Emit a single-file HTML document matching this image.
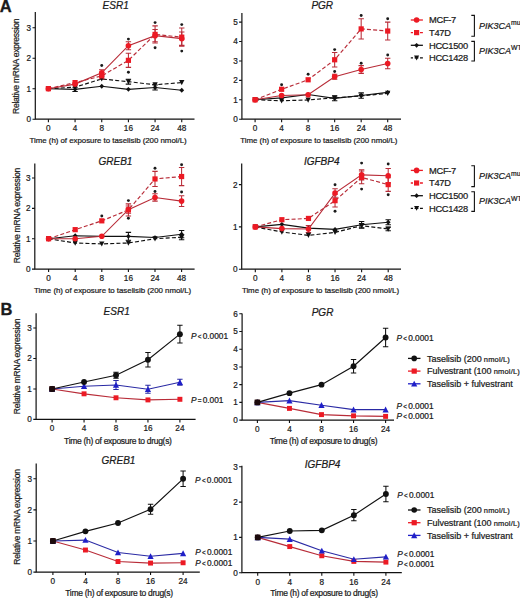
<!DOCTYPE html>
<html><head><meta charset="utf-8"><title>Figure</title>
<style>
html,body{margin:0;padding:0;background:#fff;width:520px;height:599px;overflow:hidden}
svg{display:block}
text{font-family:"Liberation Sans", sans-serif;fill:#1a1a1a;stroke:#1a1a1a;stroke-width:0.22px}
.tk{font-size:8.2px}
.ti{font-size:10px;font-style:italic}
.xt{font-size:7.9px;letter-spacing:-0.03px}
.xtb{font-size:8.5px;letter-spacing:-0.3px}
.yl{font-size:8.6px;letter-spacing:-0.29px}
.st{font-size:9px;font-weight:bold}
.pv{font-size:8.3px}
.lg{font-size:9.3px;letter-spacing:-0.28px}
.lgb{font-size:9px;letter-spacing:-0.03px}
.lgi{font-size:9px;font-style:italic}
.sup{font-size:6.8px;font-style:normal}
.sm{font-size:7.5px;letter-spacing:0.15px}
.pl{font-size:16.5px;font-weight:bold;stroke-width:0.3px}
</style></head><body>
<svg width="520" height="599" viewBox="0 0 520 599">
<path d="M35.3 12.1V119.2H194.5" fill="none" stroke="#111111" stroke-width="1.2"/>
<path d="M32.5 119.2H35.3M32.5 88.7H35.3M32.5 58.2H35.3M32.5 27.7H35.3M48.4 119.2V122.2M75.07 119.2V122.2M101.74 119.2V122.2M128.41 119.2V122.2M155.08 119.2V122.2M181.75 119.2V122.2" stroke="#111111" stroke-width="1.1"/>
<text x="31.1" y="122.1" text-anchor="end" class="tk">0</text>
<text x="31.1" y="91.6" text-anchor="end" class="tk">1</text>
<text x="31.1" y="61.1" text-anchor="end" class="tk">2</text>
<text x="31.1" y="30.6" text-anchor="end" class="tk">3</text>
<text x="48.4" y="131" text-anchor="middle" class="tk">0</text>
<text x="75.07" y="131" text-anchor="middle" class="tk">4</text>
<text x="101.74" y="131" text-anchor="middle" class="tk">8</text>
<text x="128.41" y="131" text-anchor="middle" class="tk">16</text>
<text x="155.08" y="131" text-anchor="middle" class="tk">24</text>
<text x="181.75" y="131" text-anchor="middle" class="tk">48</text>
<text x="102.6" y="8.8" class="ti">ESR1</text>
<text x="29.5" y="142.9" class="xt">Time (h) of exposure to taselisib (200 nmol/L)</text>
<text transform="translate(19.3 66.3) rotate(-90)" text-anchor="middle" class="yl">Relative mRNA expression</text>
<polyline points="48.4,88.7 75.07,89.31 101.74,86.26 128.41,89.31 155.08,87.48 181.75,90.23" fill="none" stroke="#111111" stroke-width="1.15"/>
<polyline points="48.4,88.7 75.07,87.18 101.74,78.94 128.41,81.69 155.08,84.74 181.75,82.6" fill="none" stroke="#111111" stroke-width="1.15" stroke-dasharray="4 2.2"/>
<polyline points="48.4,88.7 75.07,84.12 101.74,72.84 128.41,45.69 155.08,35.63 181.75,38.68" fill="none" stroke="#b82c38" stroke-width="1.15"/>
<polyline points="48.4,88.7 75.07,82.6 101.74,75.89 128.41,60.34 155.08,34.41 181.75,37.16" fill="none" stroke="#b82c38" stroke-width="1.15" stroke-dasharray="4 2.2"/>
<path d="M75.07 87.18V91.45M72.37 87.18H77.77M72.37 91.45H77.77" stroke="#111111" stroke-width="1.05" fill="none"/>
<path d="M155.08 85.04V89.92M152.38 85.04H157.78M152.38 89.92H157.78" stroke="#111111" stroke-width="1.05" fill="none"/>
<path d="M128.41 79.25V84.12M125.71 79.25H131.11M125.71 84.12H131.11" stroke="#111111" stroke-width="1.05" fill="none"/>
<path d="M101.74 69.79V75.89M99.04 69.79H104.44M99.04 75.89H104.44" stroke="#b82c38" stroke-width="1.05" fill="none"/>
<path d="M128.41 41.73V49.66M125.71 41.73H131.11M125.71 49.66H131.11" stroke="#b82c38" stroke-width="1.05" fill="none"/>
<path d="M155.08 29.53V41.73M152.38 29.53H157.78M152.38 41.73H157.78" stroke="#b82c38" stroke-width="1.05" fill="none"/>
<path d="M181.75 31.97V45.39M179.05 31.97H184.45M179.05 45.39H184.45" stroke="#b82c38" stroke-width="1.05" fill="none"/>
<path d="M101.74 72.84V78.94M99.04 72.84H104.44M99.04 78.94H104.44" stroke="#b82c38" stroke-width="1.05" fill="none"/>
<path d="M128.41 53.32V67.35M125.71 53.32H131.11M125.71 67.35H131.11" stroke="#b82c38" stroke-width="1.05" fill="none"/>
<path d="M155.08 25.87V42.95M152.38 25.87H157.78M152.38 42.95H157.78" stroke="#b82c38" stroke-width="1.05" fill="none"/>
<path d="M181.75 28.01V46.3M179.05 28.01H184.45M179.05 46.3H184.45" stroke="#b82c38" stroke-width="1.05" fill="none"/>
<path d="M48.4 86.3L50.8 88.7L48.4 91.1L46 88.7Z" fill="#111111"/>
<path d="M75.07 86.91L77.47 89.31L75.07 91.71L72.67 89.31Z" fill="#111111"/>
<path d="M101.74 83.86L104.14 86.26L101.74 88.66L99.34 86.26Z" fill="#111111"/>
<path d="M128.41 86.91L130.81 89.31L128.41 91.71L126.01 89.31Z" fill="#111111"/>
<path d="M155.08 85.08L157.48 87.48L155.08 89.88L152.68 87.48Z" fill="#111111"/>
<path d="M181.75 87.83L184.15 90.23L181.75 92.63L179.35 90.23Z" fill="#111111"/>
<path d="M45.74 86.18L51.06 86.18L48.4 91.36Z" fill="#111111"/>
<path d="M72.41 84.66L77.73 84.66L75.07 89.84Z" fill="#111111"/>
<path d="M99.08 76.42L104.4 76.42L101.74 81.6Z" fill="#111111"/>
<path d="M125.75 79.17L131.07 79.17L128.41 84.34Z" fill="#111111"/>
<path d="M152.42 82.22L157.74 82.22L155.08 87.4Z" fill="#111111"/>
<path d="M179.09 80.08L184.41 80.08L181.75 85.26Z" fill="#111111"/>
<circle cx="48.4" cy="88.7" r="2.8" fill="#ec1a24"/>
<circle cx="75.07" cy="84.12" r="2.8" fill="#ec1a24"/>
<circle cx="101.74" cy="72.84" r="2.8" fill="#ec1a24"/>
<circle cx="128.41" cy="45.69" r="2.8" fill="#ec1a24"/>
<circle cx="155.08" cy="35.63" r="2.8" fill="#ec1a24"/>
<circle cx="181.75" cy="38.68" r="2.8" fill="#ec1a24"/>
<rect x="45.8" y="86.1" width="5.2" height="5.2" fill="#ec1a24"/>
<rect x="72.47" y="80" width="5.2" height="5.2" fill="#ec1a24"/>
<rect x="99.14" y="73.29" width="5.2" height="5.2" fill="#ec1a24"/>
<rect x="125.81" y="57.74" width="5.2" height="5.2" fill="#ec1a24"/>
<rect x="152.48" y="31.81" width="5.2" height="5.2" fill="#ec1a24"/>
<rect x="179.15" y="34.55" width="5.2" height="5.2" fill="#ec1a24"/>
<circle cx="101.74" cy="65.5" r="1.45" fill="#1a1a1a"/>
<circle cx="128.41" cy="39.1" r="1.45" fill="#1a1a1a"/>
<circle cx="128.41" cy="72.2" r="1.45" fill="#1a1a1a"/>
<circle cx="155.08" cy="22.6" r="1.45" fill="#1a1a1a"/>
<circle cx="155.08" cy="47.7" r="1.45" fill="#1a1a1a"/>
<circle cx="181.75" cy="24.6" r="1.45" fill="#1a1a1a"/>
<circle cx="181.75" cy="51.1" r="1.45" fill="#1a1a1a"/>
<path d="M241.9 12.9V119.2H401" fill="none" stroke="#111111" stroke-width="1.2"/>
<path d="M239.1 119.2H241.9M239.1 99.78H241.9M239.1 80.36H241.9M239.1 60.94H241.9M239.1 41.52H241.9M239.1 22.1H241.9M255.1 119.2V122.2M281.62 119.2V122.2M308.14 119.2V122.2M334.66 119.2V122.2M361.18 119.2V122.2M387.7 119.2V122.2" stroke="#111111" stroke-width="1.1"/>
<text x="237.7" y="122.1" text-anchor="end" class="tk">0</text>
<text x="237.7" y="102.68" text-anchor="end" class="tk">1</text>
<text x="237.7" y="83.26" text-anchor="end" class="tk">2</text>
<text x="237.7" y="63.84" text-anchor="end" class="tk">3</text>
<text x="237.7" y="44.42" text-anchor="end" class="tk">4</text>
<text x="237.7" y="25" text-anchor="end" class="tk">5</text>
<text x="255.1" y="131" text-anchor="middle" class="tk">0</text>
<text x="281.62" y="131" text-anchor="middle" class="tk">4</text>
<text x="308.14" y="131" text-anchor="middle" class="tk">8</text>
<text x="334.66" y="131" text-anchor="middle" class="tk">16</text>
<text x="361.18" y="131" text-anchor="middle" class="tk">24</text>
<text x="387.7" y="131" text-anchor="middle" class="tk">48</text>
<text x="311.4" y="8.6" class="ti">PGR</text>
<text x="240.3" y="142.9" class="xt">Time (h) of exposure to taselisib (200 nmol/L)</text>
<text transform="translate(-100 66) rotate(-90)" text-anchor="middle" class="yl">Relative mRNA expression</text>
<polyline points="255.1,99.78 281.62,97.84 308.14,94.54 334.66,98.42 361.18,95.51 387.7,92.4" fill="none" stroke="#111111" stroke-width="1.15"/>
<polyline points="255.1,99.78 281.62,100.75 308.14,99.97 334.66,97.84 361.18,95.9 387.7,93.37" fill="none" stroke="#111111" stroke-width="1.15" stroke-dasharray="4 2.2"/>
<polyline points="255.1,99.78 281.62,95.51 308.14,94.73 334.66,76.67 361.18,69.48 387.7,63.46" fill="none" stroke="#b82c38" stroke-width="1.15"/>
<polyline points="255.1,99.78 281.62,89.29 308.14,79.78 334.66,59.77 361.18,28.9 387.7,31.03" fill="none" stroke="#b82c38" stroke-width="1.15" stroke-dasharray="4 2.2"/>
<path d="M334.66 96.09V100.75M331.96 96.09H337.36M331.96 100.75H337.36" stroke="#111111" stroke-width="1.05" fill="none"/>
<path d="M361.18 92.79V98.23M358.48 92.79H363.88M358.48 98.23H363.88" stroke="#111111" stroke-width="1.05" fill="none"/>
<path d="M334.66 74.15V79.19M331.96 74.15H337.36M331.96 79.19H337.36" stroke="#b82c38" stroke-width="1.05" fill="none"/>
<path d="M361.18 65.6V73.37M358.48 65.6H363.88M358.48 73.37H363.88" stroke="#b82c38" stroke-width="1.05" fill="none"/>
<path d="M387.7 58.22V68.71M385 58.22H390.4M385 68.71H390.4" stroke="#b82c38" stroke-width="1.05" fill="none"/>
<path d="M334.66 52.59V66.96M331.96 52.59H337.36M331.96 66.96H337.36" stroke="#b82c38" stroke-width="1.05" fill="none"/>
<path d="M361.18 18.8V39M358.48 18.8H363.88M358.48 39H363.88" stroke="#b82c38" stroke-width="1.05" fill="none"/>
<path d="M387.7 22.1V39.97M385 22.1H390.4M385 39.97H390.4" stroke="#b82c38" stroke-width="1.05" fill="none"/>
<path d="M255.1 97.38L257.5 99.78L255.1 102.18L252.7 99.78Z" fill="#111111"/>
<path d="M281.62 95.44L284.02 97.84L281.62 100.24L279.22 97.84Z" fill="#111111"/>
<path d="M308.14 92.14L310.54 94.54L308.14 96.94L305.74 94.54Z" fill="#111111"/>
<path d="M334.66 96.02L337.06 98.42L334.66 100.82L332.26 98.42Z" fill="#111111"/>
<path d="M361.18 93.11L363.58 95.51L361.18 97.91L358.78 95.51Z" fill="#111111"/>
<path d="M387.7 90L390.1 92.4L387.7 94.8L385.3 92.4Z" fill="#111111"/>
<path d="M252.44 97.26L257.76 97.26L255.1 102.44Z" fill="#111111"/>
<path d="M278.96 98.23L284.28 98.23L281.62 103.41Z" fill="#111111"/>
<path d="M305.48 97.45L310.8 97.45L308.14 102.63Z" fill="#111111"/>
<path d="M332 95.32L337.32 95.32L334.66 100.5Z" fill="#111111"/>
<path d="M358.52 93.38L363.84 93.38L361.18 98.56Z" fill="#111111"/>
<path d="M385.04 90.85L390.36 90.85L387.7 96.03Z" fill="#111111"/>
<circle cx="255.1" cy="99.78" r="2.8" fill="#ec1a24"/>
<circle cx="281.62" cy="95.51" r="2.8" fill="#ec1a24"/>
<circle cx="308.14" cy="94.73" r="2.8" fill="#ec1a24"/>
<circle cx="334.66" cy="76.67" r="2.8" fill="#ec1a24"/>
<circle cx="361.18" cy="69.48" r="2.8" fill="#ec1a24"/>
<circle cx="387.7" cy="63.46" r="2.8" fill="#ec1a24"/>
<rect x="252.5" y="97.18" width="5.2" height="5.2" fill="#ec1a24"/>
<rect x="279.02" y="86.69" width="5.2" height="5.2" fill="#ec1a24"/>
<rect x="305.54" y="77.18" width="5.2" height="5.2" fill="#ec1a24"/>
<rect x="332.06" y="57.17" width="5.2" height="5.2" fill="#ec1a24"/>
<rect x="358.58" y="26.3" width="5.2" height="5.2" fill="#ec1a24"/>
<rect x="385.1" y="28.43" width="5.2" height="5.2" fill="#ec1a24"/>
<circle cx="281.62" cy="84.8" r="1.45" fill="#1a1a1a"/>
<circle cx="308.14" cy="74.3" r="1.45" fill="#1a1a1a"/>
<circle cx="334.66" cy="49.6" r="1.45" fill="#1a1a1a"/>
<circle cx="334.66" cy="71.5" r="1.45" fill="#1a1a1a"/>
<circle cx="361.18" cy="15.5" r="1.45" fill="#1a1a1a"/>
<circle cx="361.18" cy="63.2" r="1.45" fill="#1a1a1a"/>
<circle cx="387.7" cy="18.8" r="1.45" fill="#1a1a1a"/>
<circle cx="387.7" cy="55" r="1.45" fill="#1a1a1a"/>
<path d="M34.8 163.6V269.1H194.6" fill="none" stroke="#111111" stroke-width="1.2"/>
<path d="M32 269.1H34.8M32 238.75H34.8M32 208.4H34.8M32 178.05H34.8M48.6 269.1V272.1M75.2 269.1V272.1M101.8 269.1V272.1M128.4 269.1V272.1M155 269.1V272.1M181.6 269.1V272.1" stroke="#111111" stroke-width="1.1"/>
<text x="30.6" y="272" text-anchor="end" class="tk">0</text>
<text x="30.6" y="241.65" text-anchor="end" class="tk">1</text>
<text x="30.6" y="211.3" text-anchor="end" class="tk">2</text>
<text x="30.6" y="180.95" text-anchor="end" class="tk">3</text>
<text x="48.6" y="280.9" text-anchor="middle" class="tk">0</text>
<text x="75.2" y="280.9" text-anchor="middle" class="tk">4</text>
<text x="101.8" y="280.9" text-anchor="middle" class="tk">8</text>
<text x="128.4" y="280.9" text-anchor="middle" class="tk">16</text>
<text x="155" y="280.9" text-anchor="middle" class="tk">24</text>
<text x="181.6" y="280.9" text-anchor="middle" class="tk">48</text>
<text x="98.5" y="165.1" class="ti">GREB1</text>
<text x="34.1" y="293.3" class="xt">Time (h) of exposure to taselisib (200 nmol/L)</text>
<text transform="translate(19.7 215.6) rotate(-90)" text-anchor="middle" class="yl">Relative mRNA expression</text>
<polyline points="48.6,238.75 75.2,235.72 101.8,236.32 128.4,236.32 155,237.54 181.6,234.2" fill="none" stroke="#111111" stroke-width="1.15"/>
<polyline points="48.6,238.75 75.2,243 101.8,243.91 128.4,243 155,238.75 181.6,237.23" fill="none" stroke="#111111" stroke-width="1.15" stroke-dasharray="4 2.2"/>
<polyline points="48.6,238.75 75.2,238.75 101.8,236.32 128.4,209.61 155,197.47 181.6,201.12" fill="none" stroke="#b82c38" stroke-width="1.15"/>
<polyline points="48.6,238.75 75.2,229.65 101.8,220.84 128.4,209.92 155,178.96 181.6,176.53" fill="none" stroke="#b82c38" stroke-width="1.15" stroke-dasharray="4 2.2"/>
<path d="M128.4 232.38V240.27M125.7 232.38H131.1M125.7 240.27H131.1" stroke="#111111" stroke-width="1.05" fill="none"/>
<path d="M181.6 230.56V237.84M178.9 230.56H184.3M178.9 237.84H184.3" stroke="#111111" stroke-width="1.05" fill="none"/>
<path d="M181.6 234.8V239.66M178.9 234.8H184.3M178.9 239.66H184.3" stroke="#111111" stroke-width="1.05" fill="none"/>
<path d="M128.4 205.97V213.26M125.7 205.97H131.1M125.7 213.26H131.1" stroke="#b82c38" stroke-width="1.05" fill="none"/>
<path d="M155 193.83V201.12M152.3 193.83H157.7M152.3 201.12H157.7" stroke="#b82c38" stroke-width="1.05" fill="none"/>
<path d="M181.6 195.65V206.58M178.9 195.65H184.3M178.9 206.58H184.3" stroke="#b82c38" stroke-width="1.05" fill="none"/>
<path d="M128.4 203.85V215.99M125.7 203.85H131.1M125.7 215.99H131.1" stroke="#b82c38" stroke-width="1.05" fill="none"/>
<path d="M155 171.37V186.55M152.3 171.37H157.7M152.3 186.55H157.7" stroke="#b82c38" stroke-width="1.05" fill="none"/>
<path d="M181.6 167.43V185.64M178.9 167.43H184.3M178.9 185.64H184.3" stroke="#b82c38" stroke-width="1.05" fill="none"/>
<path d="M48.6 236.35L51 238.75L48.6 241.15L46.2 238.75Z" fill="#111111"/>
<path d="M75.2 233.32L77.6 235.72L75.2 238.12L72.8 235.72Z" fill="#111111"/>
<path d="M101.8 233.92L104.2 236.32L101.8 238.72L99.4 236.32Z" fill="#111111"/>
<path d="M128.4 233.92L130.8 236.32L128.4 238.72L126 236.32Z" fill="#111111"/>
<path d="M155 235.14L157.4 237.54L155 239.94L152.6 237.54Z" fill="#111111"/>
<path d="M181.6 231.8L184 234.2L181.6 236.6L179.2 234.2Z" fill="#111111"/>
<path d="M45.94 236.23L51.26 236.23L48.6 241.41Z" fill="#111111"/>
<path d="M72.54 240.48L77.86 240.48L75.2 245.66Z" fill="#111111"/>
<path d="M99.14 241.39L104.46 241.39L101.8 246.57Z" fill="#111111"/>
<path d="M125.74 240.48L131.06 240.48L128.4 245.66Z" fill="#111111"/>
<path d="M152.34 236.23L157.66 236.23L155 241.41Z" fill="#111111"/>
<path d="M178.94 234.71L184.26 234.71L181.6 239.89Z" fill="#111111"/>
<circle cx="48.6" cy="238.75" r="2.8" fill="#ec1a24"/>
<circle cx="75.2" cy="238.75" r="2.8" fill="#ec1a24"/>
<circle cx="101.8" cy="236.32" r="2.8" fill="#ec1a24"/>
<circle cx="128.4" cy="209.61" r="2.8" fill="#ec1a24"/>
<circle cx="155" cy="197.47" r="2.8" fill="#ec1a24"/>
<circle cx="181.6" cy="201.12" r="2.8" fill="#ec1a24"/>
<rect x="46" y="236.15" width="5.2" height="5.2" fill="#ec1a24"/>
<rect x="72.6" y="227.05" width="5.2" height="5.2" fill="#ec1a24"/>
<rect x="99.2" y="218.24" width="5.2" height="5.2" fill="#ec1a24"/>
<rect x="125.8" y="207.32" width="5.2" height="5.2" fill="#ec1a24"/>
<rect x="152.4" y="176.36" width="5.2" height="5.2" fill="#ec1a24"/>
<rect x="179" y="173.93" width="5.2" height="5.2" fill="#ec1a24"/>
<circle cx="101.8" cy="216" r="1.45" fill="#1a1a1a"/>
<circle cx="128.4" cy="200.6" r="1.45" fill="#1a1a1a"/>
<circle cx="128.4" cy="218.3" r="1.45" fill="#1a1a1a"/>
<circle cx="155" cy="168.2" r="1.45" fill="#1a1a1a"/>
<circle cx="155" cy="191.5" r="1.45" fill="#1a1a1a"/>
<circle cx="181.6" cy="164.7" r="1.45" fill="#1a1a1a"/>
<circle cx="181.6" cy="192" r="1.45" fill="#1a1a1a"/>
<path d="M241.7 163.4V269.2H401" fill="none" stroke="#111111" stroke-width="1.2"/>
<path d="M238.9 269.2H241.7M238.9 226.9H241.7M238.9 184.6H241.7M255.3 269.2V272.2M281.88 269.2V272.2M308.46 269.2V272.2M335.04 269.2V272.2M361.62 269.2V272.2M388.2 269.2V272.2" stroke="#111111" stroke-width="1.1"/>
<text x="237.5" y="272.1" text-anchor="end" class="tk">0</text>
<text x="237.5" y="229.8" text-anchor="end" class="tk">1</text>
<text x="237.5" y="187.5" text-anchor="end" class="tk">2</text>
<text x="255.3" y="281" text-anchor="middle" class="tk">0</text>
<text x="281.88" y="281" text-anchor="middle" class="tk">4</text>
<text x="308.46" y="281" text-anchor="middle" class="tk">8</text>
<text x="335.04" y="281" text-anchor="middle" class="tk">16</text>
<text x="361.62" y="281" text-anchor="middle" class="tk">24</text>
<text x="388.2" y="281" text-anchor="middle" class="tk">48</text>
<text x="303.9" y="165.1" class="ti">IGFBP4</text>
<text x="241.9" y="293.3" class="xt">Time (h) of exposure to taselisib (200 nmol/L)</text>
<text transform="translate(-100 216) rotate(-90)" text-anchor="middle" class="yl">Relative mRNA expression</text>
<polyline points="255.3,226.9 281.88,224.36 308.46,228.17 335.04,229.44 361.62,224.78 388.2,222.25" fill="none" stroke="#111111" stroke-width="1.15"/>
<polyline points="255.3,226.9 281.88,231.98 308.46,235.36 335.04,232.4 361.62,225.63 388.2,229.01" fill="none" stroke="#111111" stroke-width="1.15" stroke-dasharray="4 2.2"/>
<polyline points="255.3,226.9 281.88,228.59 308.46,229.01 335.04,193.06 361.62,174.87 388.2,175.72" fill="none" stroke="#b82c38" stroke-width="1.15"/>
<polyline points="255.3,226.9 281.88,219.71 308.46,218.44 335.04,200.67 361.62,177.41 388.2,184.6" fill="none" stroke="#b82c38" stroke-width="1.15" stroke-dasharray="4 2.2"/>
<path d="M361.62 221.4V228.17M358.92 221.4H364.32M358.92 228.17H364.32" stroke="#111111" stroke-width="1.05" fill="none"/>
<path d="M388.2 219.71V224.78M385.5 219.71H390.9M385.5 224.78H390.9" stroke="#111111" stroke-width="1.05" fill="none"/>
<path d="M361.62 223.52V227.75M358.92 223.52H364.32M358.92 227.75H364.32" stroke="#111111" stroke-width="1.05" fill="none"/>
<path d="M388.2 227.32V230.71M385.5 227.32H390.9M385.5 230.71H390.9" stroke="#111111" stroke-width="1.05" fill="none"/>
<path d="M308.46 225.63V232.4M305.76 225.63H311.16M305.76 232.4H311.16" stroke="#b82c38" stroke-width="1.05" fill="none"/>
<path d="M335.04 188.83V197.29M332.34 188.83H337.74M332.34 197.29H337.74" stroke="#b82c38" stroke-width="1.05" fill="none"/>
<path d="M361.62 169.79V179.95M358.92 169.79H364.32M358.92 179.95H364.32" stroke="#b82c38" stroke-width="1.05" fill="none"/>
<path d="M388.2 168.53V182.91M385.5 168.53H390.9M385.5 182.91H390.9" stroke="#b82c38" stroke-width="1.05" fill="none"/>
<path d="M335.04 194.33V207.02M332.34 194.33H337.74M332.34 207.02H337.74" stroke="#b82c38" stroke-width="1.05" fill="none"/>
<path d="M361.62 171.06V183.75M358.92 171.06H364.32M358.92 183.75H364.32" stroke="#b82c38" stroke-width="1.05" fill="none"/>
<path d="M388.2 177.83V191.37M385.5 177.83H390.9M385.5 191.37H390.9" stroke="#b82c38" stroke-width="1.05" fill="none"/>
<path d="M255.3 224.5L257.7 226.9L255.3 229.3L252.9 226.9Z" fill="#111111"/>
<path d="M281.88 221.96L284.28 224.36L281.88 226.76L279.48 224.36Z" fill="#111111"/>
<path d="M308.46 225.77L310.86 228.17L308.46 230.57L306.06 228.17Z" fill="#111111"/>
<path d="M335.04 227.04L337.44 229.44L335.04 231.84L332.64 229.44Z" fill="#111111"/>
<path d="M361.62 222.38L364.02 224.78L361.62 227.19L359.22 224.78Z" fill="#111111"/>
<path d="M388.2 219.85L390.6 222.25L388.2 224.65L385.8 222.25Z" fill="#111111"/>
<path d="M252.64 224.38L257.96 224.38L255.3 229.56Z" fill="#111111"/>
<path d="M279.22 229.46L284.54 229.46L281.88 234.64Z" fill="#111111"/>
<path d="M305.8 232.84L311.12 232.84L308.46 238.02Z" fill="#111111"/>
<path d="M332.38 229.88L337.7 229.88L335.04 235.06Z" fill="#111111"/>
<path d="M358.96 223.11L364.28 223.11L361.62 228.29Z" fill="#111111"/>
<path d="M385.54 226.49L390.86 226.49L388.2 231.67Z" fill="#111111"/>
<circle cx="255.3" cy="226.9" r="2.8" fill="#ec1a24"/>
<circle cx="281.88" cy="228.59" r="2.8" fill="#ec1a24"/>
<circle cx="308.46" cy="229.01" r="2.8" fill="#ec1a24"/>
<circle cx="335.04" cy="193.06" r="2.8" fill="#ec1a24"/>
<circle cx="361.62" cy="174.87" r="2.8" fill="#ec1a24"/>
<circle cx="388.2" cy="175.72" r="2.8" fill="#ec1a24"/>
<rect x="252.7" y="224.3" width="5.2" height="5.2" fill="#ec1a24"/>
<rect x="279.28" y="217.11" width="5.2" height="5.2" fill="#ec1a24"/>
<rect x="305.86" y="215.84" width="5.2" height="5.2" fill="#ec1a24"/>
<rect x="332.44" y="198.07" width="5.2" height="5.2" fill="#ec1a24"/>
<rect x="359.02" y="174.81" width="5.2" height="5.2" fill="#ec1a24"/>
<rect x="385.6" y="182" width="5.2" height="5.2" fill="#ec1a24"/>
<circle cx="335.04" cy="184.8" r="1.45" fill="#1a1a1a"/>
<circle cx="335.04" cy="211.2" r="1.45" fill="#1a1a1a"/>
<circle cx="361.62" cy="163.1" r="1.45" fill="#1a1a1a"/>
<circle cx="361.62" cy="189.1" r="1.45" fill="#1a1a1a"/>
<circle cx="388.2" cy="164" r="1.45" fill="#1a1a1a"/>
<circle cx="388.2" cy="194.8" r="1.45" fill="#1a1a1a"/>
<path d="M36.1 313.2V419.4H195.6" fill="none" stroke="#111111" stroke-width="1.2"/>
<path d="M33.3 419.4H36.1M33.3 388.95H36.1M33.3 358.5H36.1M33.3 328.05H36.1M52.1 419.4V422.4M84.05 419.4V422.4M116 419.4V422.4M147.95 419.4V422.4M179.9 419.4V422.4" stroke="#111111" stroke-width="1.1"/>
<text x="31.9" y="422.3" text-anchor="end" class="tk">0</text>
<text x="31.9" y="391.85" text-anchor="end" class="tk">1</text>
<text x="31.9" y="361.4" text-anchor="end" class="tk">2</text>
<text x="31.9" y="330.95" text-anchor="end" class="tk">3</text>
<text x="52.1" y="431.2" text-anchor="middle" class="tk">0</text>
<text x="84.05" y="431.2" text-anchor="middle" class="tk">4</text>
<text x="116" y="431.2" text-anchor="middle" class="tk">8</text>
<text x="147.95" y="431.2" text-anchor="middle" class="tk">16</text>
<text x="179.9" y="431.2" text-anchor="middle" class="tk">24</text>
<text x="103.6" y="314.5" class="ti">ESR1</text>
<text x="64.1" y="443.8" class="xtb">Time (h) of exposure to drug(s)</text>
<text transform="translate(20 366.5) rotate(-90)" text-anchor="middle" class="yl">Relative mRNA expression</text>
<polyline points="52.1,388.95 84.05,393.82 116,397.78 147.95,399.91 179.9,399.3" fill="none" stroke="#b82c38" stroke-width="1.15"/>
<polyline points="52.1,388.95 84.05,386.21 116,384.99 147.95,389.25 179.9,382.25" fill="none" stroke="#2a2aa4" stroke-width="1.15"/>
<polyline points="52.1,388.95 84.05,381.95 116,375.25 147.95,359.72 179.9,334.14" fill="none" stroke="#111111" stroke-width="1.15"/>
<path d="M116 380.42V389.56M113.3 380.42H118.7M113.3 389.56H118.7" stroke="#2a2aa4" stroke-width="1.05" fill="none"/>
<path d="M147.95 385.3V393.21M145.25 385.3H150.65M145.25 393.21H150.65" stroke="#2a2aa4" stroke-width="1.05" fill="none"/>
<path d="M179.9 379.21V385.3M177.2 379.21H182.6M177.2 385.3H182.6" stroke="#2a2aa4" stroke-width="1.05" fill="none"/>
<path d="M116 372.2V378.29M113.3 372.2H118.7M113.3 378.29H118.7" stroke="#111111" stroke-width="1.05" fill="none"/>
<path d="M147.95 352.41V367.03M145.25 352.41H150.65M145.25 367.03H150.65" stroke="#111111" stroke-width="1.05" fill="none"/>
<path d="M179.9 325.31V342.97M177.2 325.31H182.6M177.2 342.97H182.6" stroke="#111111" stroke-width="1.05" fill="none"/>
<rect x="49.63" y="386.48" width="4.94" height="4.94" fill="#ec1a24"/>
<rect x="81.58" y="391.35" width="4.94" height="4.94" fill="#ec1a24"/>
<rect x="113.53" y="395.31" width="4.94" height="4.94" fill="#ec1a24"/>
<rect x="145.48" y="397.44" width="4.94" height="4.94" fill="#ec1a24"/>
<rect x="177.43" y="396.83" width="4.94" height="4.94" fill="#ec1a24"/>
<path d="M49 391.74L55.2 391.74L52.1 385.85Z" fill="#1f1fc8"/>
<path d="M80.95 389L87.15 389L84.05 383.11Z" fill="#1f1fc8"/>
<path d="M112.9 387.78L119.1 387.78L116 381.89Z" fill="#1f1fc8"/>
<path d="M144.85 392.04L151.05 392.04L147.95 386.15Z" fill="#1f1fc8"/>
<path d="M176.8 385.04L183 385.04L179.9 379.15Z" fill="#1f1fc8"/>
<circle cx="52.1" cy="388.95" r="2.94" fill="#111111"/>
<circle cx="84.05" cy="381.95" r="2.94" fill="#111111"/>
<circle cx="116" cy="375.25" r="2.94" fill="#111111"/>
<circle cx="147.95" cy="359.72" r="2.94" fill="#111111"/>
<circle cx="179.9" cy="334.14" r="2.94" fill="#111111"/>
<rect x="49.3" y="386.15" width="5.6" height="5.6" fill="#1c0a0c"/>
<text x="191" y="338.6" class="pv"><tspan font-style="italic">P</tspan><tspan dx="1.3" font-size="6.4px">&lt;</tspan><tspan dx="1.1">0.0001</tspan></text>
<text x="191" y="402.7" class="pv"><tspan font-style="italic">P</tspan><tspan dx="1.3" font-size="6.4px">=</tspan><tspan dx="1.1">0.001</tspan></text>
<path d="M242.1 313.5V420.1H394" fill="none" stroke="#111111" stroke-width="1.2"/>
<path d="M239.3 420.1H242.1M239.3 402.38H242.1M239.3 384.66H242.1M239.3 366.94H242.1M239.3 349.22H242.1M239.3 331.5H242.1M239.3 313.78H242.1M257.4 420.1V423.1M289.45 420.1V423.1M321.5 420.1V423.1M353.55 420.1V423.1M385.6 420.1V423.1" stroke="#111111" stroke-width="1.1"/>
<text x="237.9" y="423" text-anchor="end" class="tk">0</text>
<text x="237.9" y="405.28" text-anchor="end" class="tk">1</text>
<text x="237.9" y="387.56" text-anchor="end" class="tk">2</text>
<text x="237.9" y="369.84" text-anchor="end" class="tk">3</text>
<text x="237.9" y="352.12" text-anchor="end" class="tk">4</text>
<text x="237.9" y="334.4" text-anchor="end" class="tk">5</text>
<text x="237.9" y="316.68" text-anchor="end" class="tk">6</text>
<text x="257.4" y="431.9" text-anchor="middle" class="tk">0</text>
<text x="289.45" y="431.9" text-anchor="middle" class="tk">4</text>
<text x="321.5" y="431.9" text-anchor="middle" class="tk">8</text>
<text x="353.55" y="431.9" text-anchor="middle" class="tk">16</text>
<text x="385.6" y="431.9" text-anchor="middle" class="tk">24</text>
<text x="311.7" y="315.6" class="ti">PGR</text>
<text x="269.7" y="443.8" class="xtb">Time (h) of exposure to drug(s)</text>
<text transform="translate(-100 367) rotate(-90)" text-anchor="middle" class="yl">Relative mRNA expression</text>
<polyline points="257.4,402.38 289.45,408.4 321.5,414.61 353.55,415.85 385.6,416.38" fill="none" stroke="#b82c38" stroke-width="1.15"/>
<polyline points="257.4,402.38 289.45,400.61 321.5,405.22 353.55,409.65 385.6,409.65" fill="none" stroke="#2a2aa4" stroke-width="1.15"/>
<polyline points="257.4,402.38 289.45,393.17 321.5,384.66 353.55,366.23 385.6,337.52" fill="none" stroke="#111111" stroke-width="1.15"/>
<path d="M353.55 359.5V372.96M350.85 359.5H356.25M350.85 372.96H356.25" stroke="#111111" stroke-width="1.05" fill="none"/>
<path d="M385.6 328.31V346.74M382.9 328.31H388.3M382.9 346.74H388.3" stroke="#111111" stroke-width="1.05" fill="none"/>
<rect x="254.93" y="399.91" width="4.94" height="4.94" fill="#ec1a24"/>
<rect x="286.98" y="405.93" width="4.94" height="4.94" fill="#ec1a24"/>
<rect x="319.03" y="412.14" width="4.94" height="4.94" fill="#ec1a24"/>
<rect x="351.08" y="413.38" width="4.94" height="4.94" fill="#ec1a24"/>
<rect x="383.13" y="413.91" width="4.94" height="4.94" fill="#ec1a24"/>
<path d="M254.3 405.17L260.5 405.17L257.4 399.28Z" fill="#1f1fc8"/>
<path d="M286.35 403.4L292.55 403.4L289.45 397.51Z" fill="#1f1fc8"/>
<path d="M318.4 408.01L324.6 408.01L321.5 402.12Z" fill="#1f1fc8"/>
<path d="M350.45 412.44L356.65 412.44L353.55 406.55Z" fill="#1f1fc8"/>
<path d="M382.5 412.44L388.7 412.44L385.6 406.55Z" fill="#1f1fc8"/>
<circle cx="257.4" cy="402.38" r="2.94" fill="#111111"/>
<circle cx="289.45" cy="393.17" r="2.94" fill="#111111"/>
<circle cx="321.5" cy="384.66" r="2.94" fill="#111111"/>
<circle cx="353.55" cy="366.23" r="2.94" fill="#111111"/>
<circle cx="385.6" cy="337.52" r="2.94" fill="#111111"/>
<rect x="254.6" y="399.58" width="5.6" height="5.6" fill="#1c0a0c"/>
<text x="396.5" y="340.9" class="pv"><tspan font-style="italic">P</tspan><tspan dx="1.3" font-size="6.4px">&lt;</tspan><tspan dx="1.1">0.0001</tspan></text>
<text x="396.5" y="408.7" class="pv"><tspan font-style="italic">P</tspan><tspan dx="1.3" font-size="6.4px">&lt;</tspan><tspan dx="1.1">0.0001</tspan></text>
<text x="396.5" y="418.7" class="pv"><tspan font-style="italic">P</tspan><tspan dx="1.3" font-size="6.4px">&lt;</tspan><tspan dx="1.1">0.0001</tspan></text>
<path d="M36.2 463.4V572.1H199.8" fill="none" stroke="#111111" stroke-width="1.2"/>
<path d="M33.4 572.1H36.2M33.4 541H36.2M33.4 509.9H36.2M33.4 478.8H36.2M52.9 572.1V575.1M85.45 572.1V575.1M118 572.1V575.1M150.55 572.1V575.1M183.1 572.1V575.1" stroke="#111111" stroke-width="1.1"/>
<text x="32" y="575" text-anchor="end" class="tk">0</text>
<text x="32" y="543.9" text-anchor="end" class="tk">1</text>
<text x="32" y="512.8" text-anchor="end" class="tk">2</text>
<text x="32" y="481.7" text-anchor="end" class="tk">3</text>
<text x="52.9" y="583.9" text-anchor="middle" class="tk">0</text>
<text x="85.45" y="583.9" text-anchor="middle" class="tk">4</text>
<text x="118" y="583.9" text-anchor="middle" class="tk">8</text>
<text x="150.55" y="583.9" text-anchor="middle" class="tk">16</text>
<text x="183.1" y="583.9" text-anchor="middle" class="tk">24</text>
<text x="101.5" y="464.3" class="ti">GREB1</text>
<text x="65.3" y="596.2" class="xtb">Time (h) of exposure to drug(s)</text>
<text transform="translate(20.1 517) rotate(-90)" text-anchor="middle" class="yl">Relative mRNA expression</text>
<polyline points="52.9,541 85.45,550.02 118,561.53 150.55,563.08 183.1,562.77" fill="none" stroke="#b82c38" stroke-width="1.15"/>
<polyline points="52.9,541 85.45,540.07 118,552.51 150.55,556.24 183.1,553.44" fill="none" stroke="#2a2aa4" stroke-width="1.15"/>
<polyline points="52.9,541 85.45,531.36 118,522.96 150.55,509.28 183.1,478.8" fill="none" stroke="#111111" stroke-width="1.15"/>
<path d="M150.55 504.3V514.25M147.85 504.3H153.25M147.85 514.25H153.25" stroke="#111111" stroke-width="1.05" fill="none"/>
<path d="M183.1 471.03V486.58M180.4 471.03H185.8M180.4 486.58H185.8" stroke="#111111" stroke-width="1.05" fill="none"/>
<rect x="50.43" y="538.53" width="4.94" height="4.94" fill="#ec1a24"/>
<rect x="82.98" y="547.55" width="4.94" height="4.94" fill="#ec1a24"/>
<rect x="115.53" y="559.06" width="4.94" height="4.94" fill="#ec1a24"/>
<rect x="148.08" y="560.61" width="4.94" height="4.94" fill="#ec1a24"/>
<rect x="180.63" y="560.3" width="4.94" height="4.94" fill="#ec1a24"/>
<path d="M49.8 543.79L56 543.79L52.9 537.9Z" fill="#1f1fc8"/>
<path d="M82.35 542.86L88.55 542.86L85.45 536.97Z" fill="#1f1fc8"/>
<path d="M114.9 555.3L121.1 555.3L118 549.41Z" fill="#1f1fc8"/>
<path d="M147.45 559.03L153.65 559.03L150.55 553.14Z" fill="#1f1fc8"/>
<path d="M180 556.23L186.2 556.23L183.1 550.34Z" fill="#1f1fc8"/>
<circle cx="52.9" cy="541" r="2.94" fill="#111111"/>
<circle cx="85.45" cy="531.36" r="2.94" fill="#111111"/>
<circle cx="118" cy="522.96" r="2.94" fill="#111111"/>
<circle cx="150.55" cy="509.28" r="2.94" fill="#111111"/>
<circle cx="183.1" cy="478.8" r="2.94" fill="#111111"/>
<rect x="50.1" y="538.2" width="5.6" height="5.6" fill="#1c0a0c"/>
<text x="195.1" y="482.5" class="pv"><tspan font-style="italic">P</tspan><tspan dx="1.3" font-size="6.4px">&lt;</tspan><tspan dx="1.1">0.0001</tspan></text>
<text x="195.2" y="555.4" class="pv"><tspan font-style="italic">P</tspan><tspan dx="1.3" font-size="6.4px">&lt;</tspan><tspan dx="1.1">0.0001</tspan></text>
<text x="195.2" y="566" class="pv"><tspan font-style="italic">P</tspan><tspan dx="1.3" font-size="6.4px">&lt;</tspan><tspan dx="1.1">0.0001</tspan></text>
<path d="M241.9 465.8V572.7H401.8" fill="none" stroke="#111111" stroke-width="1.2"/>
<path d="M239.1 572.7H241.9M239.1 537.4H241.9M239.1 502.1H241.9M239.1 466.8H241.9M257.7 572.7V575.7M289.75 572.7V575.7M321.8 572.7V575.7M353.85 572.7V575.7M385.9 572.7V575.7" stroke="#111111" stroke-width="1.1"/>
<text x="237.7" y="575.6" text-anchor="end" class="tk">0</text>
<text x="237.7" y="540.3" text-anchor="end" class="tk">1</text>
<text x="237.7" y="505" text-anchor="end" class="tk">2</text>
<text x="237.7" y="469.7" text-anchor="end" class="tk">3</text>
<text x="257.7" y="584.5" text-anchor="middle" class="tk">0</text>
<text x="289.75" y="584.5" text-anchor="middle" class="tk">4</text>
<text x="321.8" y="584.5" text-anchor="middle" class="tk">8</text>
<text x="353.85" y="584.5" text-anchor="middle" class="tk">16</text>
<text x="385.9" y="584.5" text-anchor="middle" class="tk">24</text>
<text x="304.8" y="467.7" class="ti">IGFBP4</text>
<text x="270.3" y="596.2" class="xtb">Time (h) of exposure to drug(s)</text>
<text transform="translate(-100 518) rotate(-90)" text-anchor="middle" class="yl">Relative mRNA expression</text>
<polyline points="257.7,537.4 289.75,546.58 321.8,555.76 353.85,561.4 385.9,562.11" fill="none" stroke="#b82c38" stroke-width="1.15"/>
<polyline points="257.7,537.4 289.75,539.17 321.8,550.81 353.85,559.29 385.9,556.82" fill="none" stroke="#2a2aa4" stroke-width="1.15"/>
<polyline points="257.7,537.4 289.75,531.05 321.8,530.34 353.85,515.16 385.9,493.98" fill="none" stroke="#111111" stroke-width="1.15"/>
<path d="M353.85 509.51V520.81M351.15 509.51H356.55M351.15 520.81H356.55" stroke="#111111" stroke-width="1.05" fill="none"/>
<path d="M385.9 486.22V501.75M383.2 486.22H388.6M383.2 501.75H388.6" stroke="#111111" stroke-width="1.05" fill="none"/>
<rect x="255.23" y="534.93" width="4.94" height="4.94" fill="#ec1a24"/>
<rect x="287.28" y="544.11" width="4.94" height="4.94" fill="#ec1a24"/>
<rect x="319.33" y="553.29" width="4.94" height="4.94" fill="#ec1a24"/>
<rect x="351.38" y="558.93" width="4.94" height="4.94" fill="#ec1a24"/>
<rect x="383.43" y="559.64" width="4.94" height="4.94" fill="#ec1a24"/>
<path d="M254.6 540.19L260.8 540.19L257.7 534.3Z" fill="#1f1fc8"/>
<path d="M286.65 541.96L292.85 541.96L289.75 536.07Z" fill="#1f1fc8"/>
<path d="M318.7 553.6L324.9 553.6L321.8 547.71Z" fill="#1f1fc8"/>
<path d="M350.75 562.08L356.95 562.08L353.85 556.19Z" fill="#1f1fc8"/>
<path d="M382.8 559.61L389 559.61L385.9 553.72Z" fill="#1f1fc8"/>
<circle cx="257.7" cy="537.4" r="2.94" fill="#111111"/>
<circle cx="289.75" cy="531.05" r="2.94" fill="#111111"/>
<circle cx="321.8" cy="530.34" r="2.94" fill="#111111"/>
<circle cx="353.85" cy="515.16" r="2.94" fill="#111111"/>
<circle cx="385.9" cy="493.98" r="2.94" fill="#111111"/>
<rect x="254.9" y="534.6" width="5.6" height="5.6" fill="#1c0a0c"/>
<text x="397.2" y="497.9" class="pv"><tspan font-style="italic">P</tspan><tspan dx="1.3" font-size="6.4px">&lt;</tspan><tspan dx="1.1">0.0001</tspan></text>
<text x="397.2" y="556.7" class="pv"><tspan font-style="italic">P</tspan><tspan dx="1.3" font-size="6.4px">&lt;</tspan><tspan dx="1.1">0.0001</tspan></text>
<text x="397.2" y="566.6" class="pv"><tspan font-style="italic">P</tspan><tspan dx="1.3" font-size="6.4px">&lt;</tspan><tspan dx="1.1">0.0001</tspan></text>
<path d="M410.8 20H422.9" stroke="#ec1a24" stroke-width="1.3"/>
<circle cx="416.6" cy="20" r="2.8" fill="#ec1a24"/>
<text x="429" y="23.3" class="lg">MCF-7</text>
<path d="M410.8 32.6H413M414.6 32.6H418.4M420 32.6H422.9" stroke="#ec1a24" stroke-width="1.3"/>
<rect x="414" y="30" width="5.2" height="5.2" fill="#ec1a24"/>
<text x="429" y="35.9" class="lg">T47D</text>
<path d="M410.8 45.3H422.9" stroke="#111111" stroke-width="1.3"/>
<path d="M416.6 42.9L419 45.3L416.6 47.7L414.2 45.3Z" fill="#111111"/>
<text x="429" y="48.6" class="lg">HCC1500</text>
<path d="M410.8 57.9H413M414.6 57.9H418.4M420 57.9H422.9" stroke="#111111" stroke-width="1.3"/>
<path d="M414.07 55.51L419.13 55.51L416.6 60.43Z" fill="#111111"/>
<text x="429" y="61.2" class="lg">HCC1428</text>
<path d="M471.3 15.4H474.4V36.2H471.3M471.3 41.4H474.4V61H471.3" fill="none" stroke="#111111" stroke-width="1.1"/>
<text x="479" y="28.7" class="lgi">PIK3CA<tspan class="sup" dy="-3.6">mut</tspan></text>
<text x="479" y="54" class="lgi">PIK3CA<tspan class="sup" dy="-3.6">WT</tspan></text>
<path d="M410.8 170.4H422.9" stroke="#ec1a24" stroke-width="1.3"/>
<circle cx="416.6" cy="170.4" r="2.8" fill="#ec1a24"/>
<text x="429" y="173.7" class="lg">MCF-7</text>
<path d="M410.8 183H413M414.6 183H418.4M420 183H422.9" stroke="#ec1a24" stroke-width="1.3"/>
<rect x="414" y="180.4" width="5.2" height="5.2" fill="#ec1a24"/>
<text x="429" y="186.3" class="lg">T47D</text>
<path d="M410.8 195.7H422.9" stroke="#111111" stroke-width="1.3"/>
<path d="M416.6 193.3L419 195.7L416.6 198.1L414.2 195.7Z" fill="#111111"/>
<text x="429" y="199" class="lg">HCC1500</text>
<path d="M410.8 208.3H413M414.6 208.3H418.4M420 208.3H422.9" stroke="#111111" stroke-width="1.3"/>
<path d="M414.07 205.91L419.13 205.91L416.6 210.83Z" fill="#111111"/>
<text x="429" y="211.6" class="lg">HCC1428</text>
<path d="M471.3 165.8H474.4V186.6H471.3M471.3 191.8H474.4V211.4H471.3" fill="none" stroke="#111111" stroke-width="1.1"/>
<text x="479" y="179.1" class="lgi">PIK3CA<tspan class="sup" dy="-3.6">mut</tspan></text>
<text x="479" y="204.4" class="lgi">PIK3CA<tspan class="sup" dy="-3.6">WT</tspan></text>
<path d="M408 358.4H420.5" stroke="#111111" stroke-width="1.3"/>
<circle cx="414.2" cy="358.4" r="2.8" fill="#111111"/>
<text x="427" y="361.7" class="lgb">Taselisib (200<tspan class="sm"> nmol/L)</tspan></text>
<path d="M408 371.1H420.5" stroke="#ec1a24" stroke-width="1.3"/>
<rect x="411.6" y="368.5" width="5.2" height="5.2" fill="#ec1a24"/>
<text x="427" y="374.4" class="lgb">Fulvestrant (100<tspan class="sm"> nmol/L)</tspan></text>
<path d="M408 383.8H420.5" stroke="#1f1fc8" stroke-width="1.3"/>
<path d="M411.1 386.59L417.3 386.59L414.2 380.7Z" fill="#1f1fc8"/>
<text x="427" y="387.1" class="lgb">Taselisib + fulvestrant</text>
<path d="M408 510H420.5" stroke="#111111" stroke-width="1.3"/>
<circle cx="414.2" cy="510" r="2.8" fill="#111111"/>
<text x="427" y="513.3" class="lgb">Taselisib (200<tspan class="sm"> nmol/L)</tspan></text>
<path d="M408 522.7H420.5" stroke="#ec1a24" stroke-width="1.3"/>
<rect x="411.6" y="520.1" width="5.2" height="5.2" fill="#ec1a24"/>
<text x="427" y="526" class="lgb">Fulvestrant (100<tspan class="sm"> nmol/L)</tspan></text>
<path d="M408 535.4H420.5" stroke="#1f1fc8" stroke-width="1.3"/>
<path d="M411.1 538.19L417.3 538.19L414.2 532.3Z" fill="#1f1fc8"/>
<text x="427" y="538.7" class="lgb">Taselisib + fulvestrant</text>
<text x="-0.3" y="11.6" class="pl">A</text>
<text x="0.5" y="314.6" class="pl">B</text>
</svg>
</body></html>
